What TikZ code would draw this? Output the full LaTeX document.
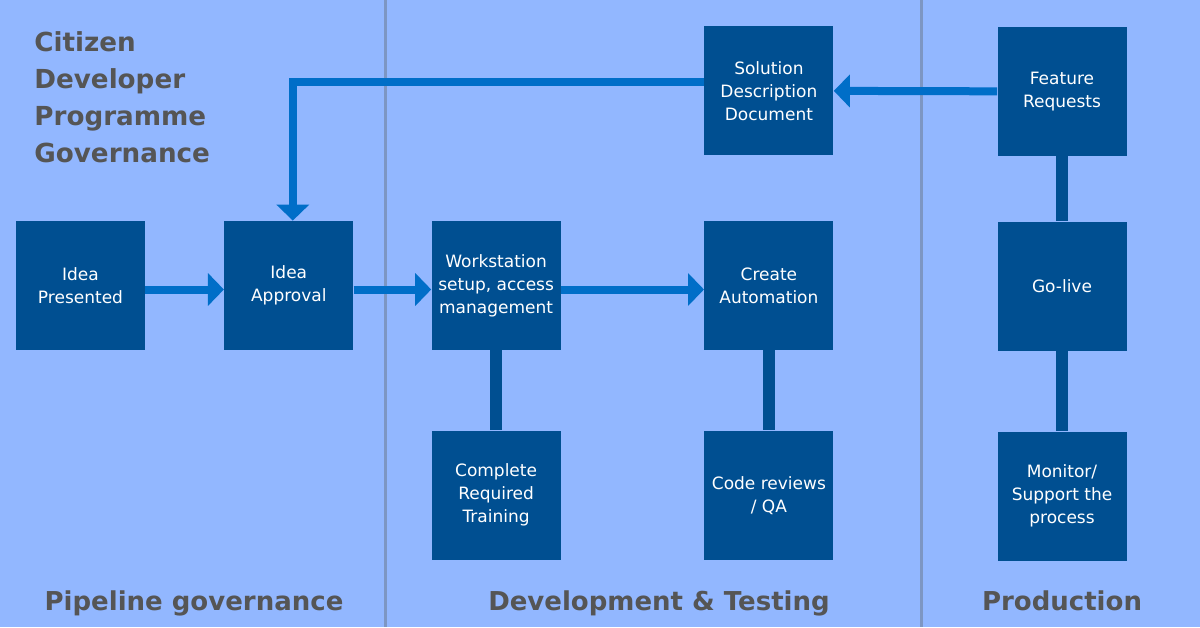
\documentclass[tikz,border=0pt]{standalone}
\usepackage{fontspec}
\setmainfont{DejaVu Sans}
\usepackage{xcolor}
\usetikzlibrary{arrows.meta,positioning}
\definecolor{BgBlue}{RGB}{146,183,255}
\definecolor{BoxBlue}{RGB}{0,79,145}
\definecolor{ArrowBlue}{RGB}{0,110,200}
\definecolor{LabelGrey}{RGB}{85,85,85}
\definecolor{RuleGrey}{RGB}{125,150,195}

\begin{document}
\begin{tikzpicture}[x=0.5pt, y=-0.5pt,
    box/.style={fill=BoxBlue, draw=none, text=white, minimum width=64.5pt, minimum height=64.5pt, inner sep=0pt, align=center, font=\fontsize{8.5}{11.5}\selectfont},
    flow/.style={draw=ArrowBlue, line width=4pt, -{Triangle[length=8pt,width=16pt]}},
    link/.style={draw=BoxBlue, line width=6pt},
    divider/.style={draw=RuleGrey, line width=1.5pt},
    phase/.style={text=LabelGrey, font=\fontsize{13}{15}\bfseries, inner sep=0pt}]
  % background and lanes
  \fill[BgBlue] (0,0) rectangle (1200,627);
  \useasboundingbox (0,0) rectangle (1200,627);
  \draw[divider] (385,0) -- (385,627);
  \draw[divider] (921,0) -- (921,627);

  \node[text=LabelGrey, font=\fontsize{13.1}{18.5}\bfseries, align=left, anchor=north west, inner sep=0pt] (title) at (34,31) {Citizen\\Developer\\Programme\\Governance};

  % boxes
  \node[box] (present) at (80.5,285.5) {Idea\\Presented};
  \node[box, right=39.25pt of present] (approve) {Idea\\Approval};
  \node[box, right=38.75pt of approve] (work) {Workstation\\setup, access\\management};
  \node[box, right=71.5pt of work] (create) {Create\\Automation};
  \node[box, below=40pt of work] (training) {Complete\\Required\\Training};
  \node[box, below=40pt of create] (review) {Code reviews\\/ QA};
  \node[box, above=32.5pt of create] (solution) {Solution\\Description\\Document};
  \node[box] (feature) at (1062,91.5) {Feature\\Requests};
  \node[box, below=32.5pt of feature] (golive) {Go-live};
  \node[box, below=40pt of golive] (monitor) {Monitor/\\Support the\\process};

  % connectors
  \draw[link] (work) -- (training);
  \draw[link] (create) -- (review);
  \draw[link] (feature) -- (golive);
  \draw[link] (golive) -- (monitor);
  \draw[flow] ([yshift=-2pt]present.east) -- ([yshift=-2pt]approve.west);
  \draw[flow] ([yshift=-2pt]approve.east) -- ([yshift=-2pt]work.west);
  \draw[flow] ([yshift=-2pt]work.east) -- ([yshift=-2pt]create.west);
  \draw[flow] (feature) -- (solution);
  \draw[flow] ([yshift=4.25pt]solution.west) -| ([xshift=2pt]approve.north);

  % phase labels
  \node[phase, anchor=base] (pipeline) at (194,610) {Pipeline governance};
  \node[phase, anchor=base] (devtest) at (659,610) {Development \& Testing};
  \node[phase, anchor=base] (production) at (1062,610) {Production};
\end{tikzpicture}
\end{document}
